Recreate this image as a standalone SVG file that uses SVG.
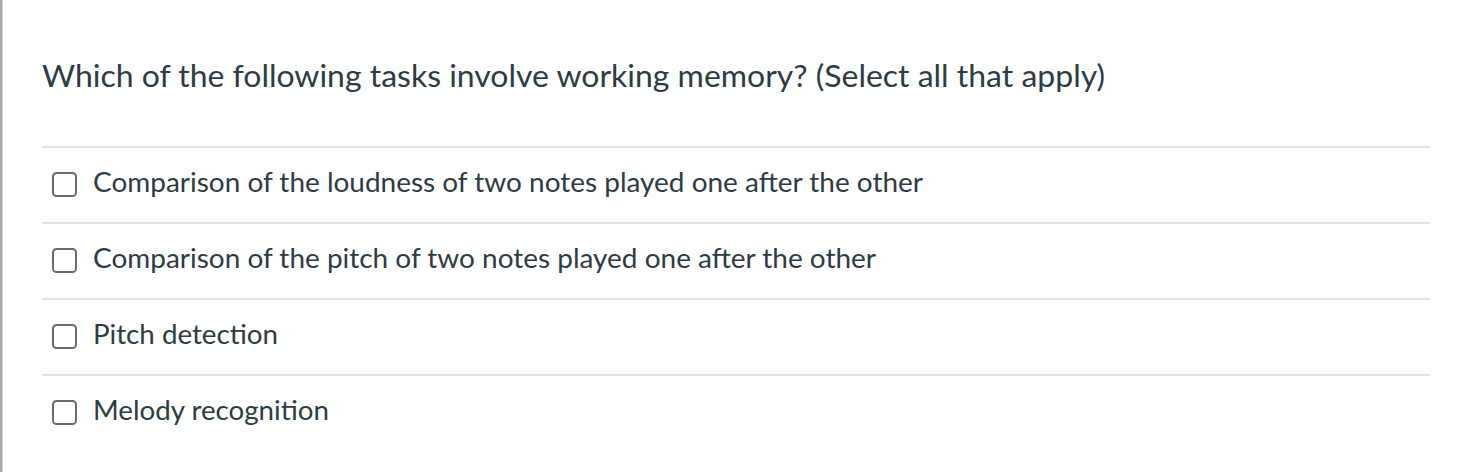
<svg xmlns="http://www.w3.org/2000/svg" width="1466" height="472" viewBox="0 0 1466 472">
<style>
.t{font-family:Lato,"Liberation Sans",sans-serif;fill:#2d3b45}
.q{font-size:30px}
.o{font-size:27px}
.sep{stroke:#dadada;stroke-width:1.5}
.cb{fill:#fff;stroke:#6b6b6b;stroke-width:2}
</style>
<rect width="1466" height="472" fill="#fff"/>
<rect x="0" y="0" width="2.5" height="472" fill="#a8a8a8"/>
<text class="t q" x="42" y="87" textLength="1063" lengthAdjust="spacingAndGlyphs">Which of the following tasks involve working memory? (Select all that apply)</text>
<g id="seps">
<line class="sep" x1="42" y1="147" x2="1430" y2="147"/>
<line class="sep" x1="42" y1="223" x2="1430" y2="223"/>
<line class="sep" x1="42" y1="299" x2="1430" y2="299"/>
<line class="sep" x1="42" y1="375" x2="1430" y2="375"/>
</g>
<g id="opt1"><rect class="cb" x="53" y="173" width="23" height="23" rx="3.5"/><text class="t o" x="93" y="192" textLength="830" lengthAdjust="spacingAndGlyphs">Comparison of the loudness of two notes played one after the other</text></g>
<g id="opt2"><rect class="cb" x="53" y="249" width="23" height="23" rx="3.5"/><text class="t o" x="93" y="268" textLength="783" lengthAdjust="spacingAndGlyphs">Comparison of the pitch of two notes played one after the other</text></g>
<g id="opt3"><rect class="cb" x="53" y="325" width="23" height="23" rx="3.5"/><text class="t o" x="93" y="344" textLength="185" lengthAdjust="spacingAndGlyphs">Pitch detection</text></g>
<g id="opt4"><rect class="cb" x="53" y="401" width="23" height="23" rx="3.5"/><text class="t o" x="93" y="420" textLength="236" lengthAdjust="spacingAndGlyphs">Melody recognition</text></g>
</svg>
